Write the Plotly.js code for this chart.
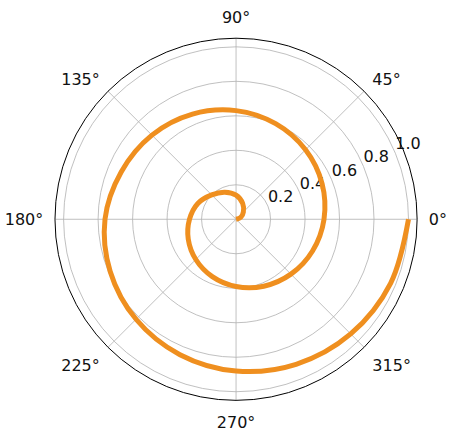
<!DOCTYPE html>
<html>
<head>
<meta charset="utf-8">
<script src="https://cdn.plot.ly/plotly-3.0.1.min.js"></script>
<style>
  html, body { margin: 0; padding: 0; background: #fff; }
  #plot { width: 474px; height: 439px; }
</style>
</head>
<body>
<div id="plot"></div>
<script>
// spiral, one point every 22.5 degrees (two turns)
let thetaDeg = [0, 22.5, 45, 67.5, 90, 112.5, 135, 157.5, 180, 202.5, 225, 247.5,
  270, 292.5, 315, 337.5, 360, 382.5, 405, 427.5, 450, 472.5, 495, 517.5,
  540, 562.5, 585, 607.5, 630, 652.5, 675, 697.5, 720];
let rVals = [0.0, 0.03, 0.06, 0.10, 0.14, 0.17, 0.20, 0.24, 0.27, 0.30, 0.33, 0.36,
  0.39, 0.42, 0.45, 0.48, 0.51, 0.54, 0.57, 0.60, 0.63, 0.66, 0.69, 0.72,
  0.76, 0.79, 0.82, 0.85, 0.88, 0.91, 0.94, 0.97, 1.0];

let angTicks = [0, 45, 90, 135, 180, 225, 270, 315];
let angLabels = ['0°', '45°', '90°', '135°', '180°', '225°', '270°', '315°'];
let radTicks = [0.2, 0.4, 0.6, 0.8, 1.0];
let radLabels = ['0.2', '0.4', '0.6', '0.8', '1.0'];
let radLabelAngle = 22.5; // matplotlib puts r labels on this ray

let data = [{
  // r tick labels, drawn as text on the label ray (under the spiral)
  type: 'scatterpolar',
  mode: 'text',
  r: radTicks,
  theta: radTicks.map(() => radLabelAngle),
  text: radLabels,
  textposition: 'top right',
  textfont: {family: 'DejaVu Sans', size: 16, color: '#111'},
  hoverinfo: 'skip',
  cliponaxis: false
}, {
  type: 'scatterpolar',
  mode: 'lines',
  r: rVals,
  theta: thetaDeg,
  line: {color: '#ef8f1f', width: 5, shape: 'spline'},
  hoverinfo: 'skip'
}];

let layout = {
  width: 474,
  height: 439,
  margin: {l: 0, r: 0, t: 0, b: 0},
  paper_bgcolor: '#fff',
  showlegend: false,
  font: {family: 'DejaVu Sans', size: 16, color: '#111'},
  polar: {
    domain: {x: [0.116, 0.880], y: [0.088, 0.913]},
    bgcolor: '#fff',
    angularaxis: {
      tickmode: 'array',
      tickvals: angTicks,
      ticktext: angLabels,
      direction: 'counterclockwise',
      rotation: 0,
      showline: true,
      linecolor: '#000',
      linewidth: 1,
      gridcolor: '#b0b0b0',
      gridwidth: 0.8,
      ticks: 'outside',
      ticklen: 8,
      tickcolor: 'rgba(0,0,0,0)',
      tickfont: {size: 16}
    },
    radialaxis: {
      range: [0, 1.05],
      tickmode: 'array',
      tickvals: radTicks,
      showticklabels: false,
      angle: radLabelAngle,
      showline: false,
      ticks: '',
      gridcolor: '#b0b0b0',
      gridwidth: 0.8
    }
  }
};

Plotly.newPlot('plot', data, layout, {displayModeBar: false, staticPlot: true});
</script>
</body>
</html>
